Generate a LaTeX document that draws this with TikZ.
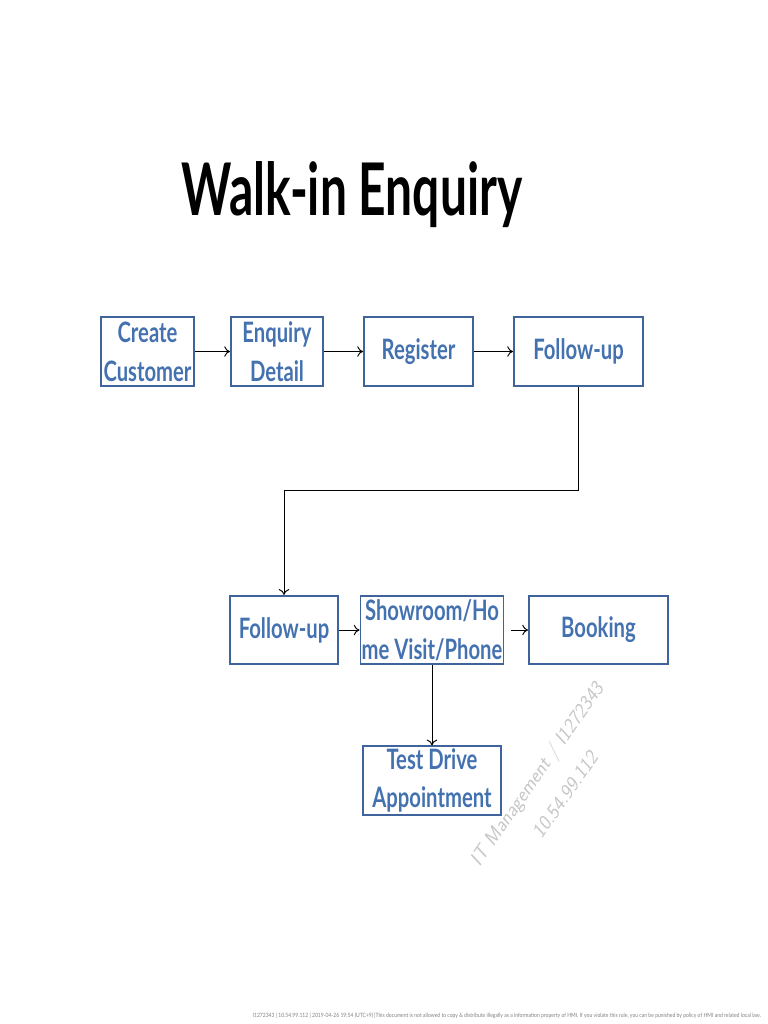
\documentclass[tikz,border=0pt]{standalone}
\usepackage{fontspec}
\usepackage{graphicx}
\setmainfont{Lato}
\usetikzlibrary{positioning,arrows.meta}
\definecolor{boxblue}{RGB}{62,100,155}
\definecolor{textblue}{RGB}{68,114,176}
\newcommand{\nb}[1]{\scalebox{0.72}[1]{#1}}
\tikzset{
  stepbox/.style={draw=boxblue, line width=1.6pt, minimum height=2.05cm,
    text=textblue, font=\bfseries\fontsize{24}{33}\selectfont,
    align=center, inner sep=1pt},
  flow/.style={-{To[length=5pt,width=9pt]}, line width=0.8pt},
  wmark/.style={gray!45, rotate=55, font=\sffamily\itshape\fontsize{17}{20}\selectfont}
}
\begin{document}
\begin{tikzpicture}[x=0.03cm,y=-0.03cm]

    \useasboundingbox (0,0) rectangle (768,1024);

    \node (title) [font=\bfseries\fontsize{62}{64}\selectfont] at (352,195) {\scalebox{0.66}[1]{Walk-in Enquiry}};

    \node (create)   [stepbox, minimum width=2.79cm] at (147.5,351.5) {\nb{Create}\\\nb{Customer}};
    \node (detail)   [stepbox, minimum width=2.76cm] at (277,351.5)   {\nb{Enquiry}\\\nb{Detail}};
    \node (register) [stepbox, minimum width=3.27cm] at (418.5,351.5) {\nb{Register}};
    \node (follow)   [stepbox, minimum width=3.87cm] at (578.5,351.5) {\nb{Follow-up}};

    \node (followb)  [stepbox, minimum width=3.24cm] at (284,630)     {\nb{Follow-up}};
    \node (showroom) [stepbox, minimum width=4.14cm] at (432,630)     {\nb{Showroom/Ho}\\\nb{me Visit/Phone}};
    \node (booking)  [stepbox, minimum width=4.17cm] at (598.5,630)   {\nb{Booking}};

    \node (drive)    [stepbox, minimum width=4.14cm] at (432,780.5)   {\nb{Test Drive}\\\nb{Appointment}};

    \draw[flow] (create) -- (detail);
    \draw[flow] (detail) -- (register);
    \draw[flow] (register) -- (follow);
    \draw[flow] (follow.south) -- ++(0,104) -| (followb.north);
    \draw[flow] (followb) -- (showroom);
    \draw[flow] ([xshift=6]showroom.east) -- (booking);
    \draw[flow] (showroom) -- (drive);

    % watermark
    \node (markA) [wmark] at (538,775) {IT Management / I1272343};
    \node (markB) [wmark] at (565,795) {10.54.99.112};

    \node (footer) [gray, anchor=east, font=\fontsize{5}{6}\selectfont] at (765,1016)
      {\scalebox{0.86}[1]{I1272343 | 10.54.99.112 | 2019-04-26 19:54 (UTC+9) |This document is not allowed to copy \& distribute illegally as a information property of HMI. If you violate this rule, you can be punished by policy of HMI and related local law.}};

\end{tikzpicture}
\end{document}
